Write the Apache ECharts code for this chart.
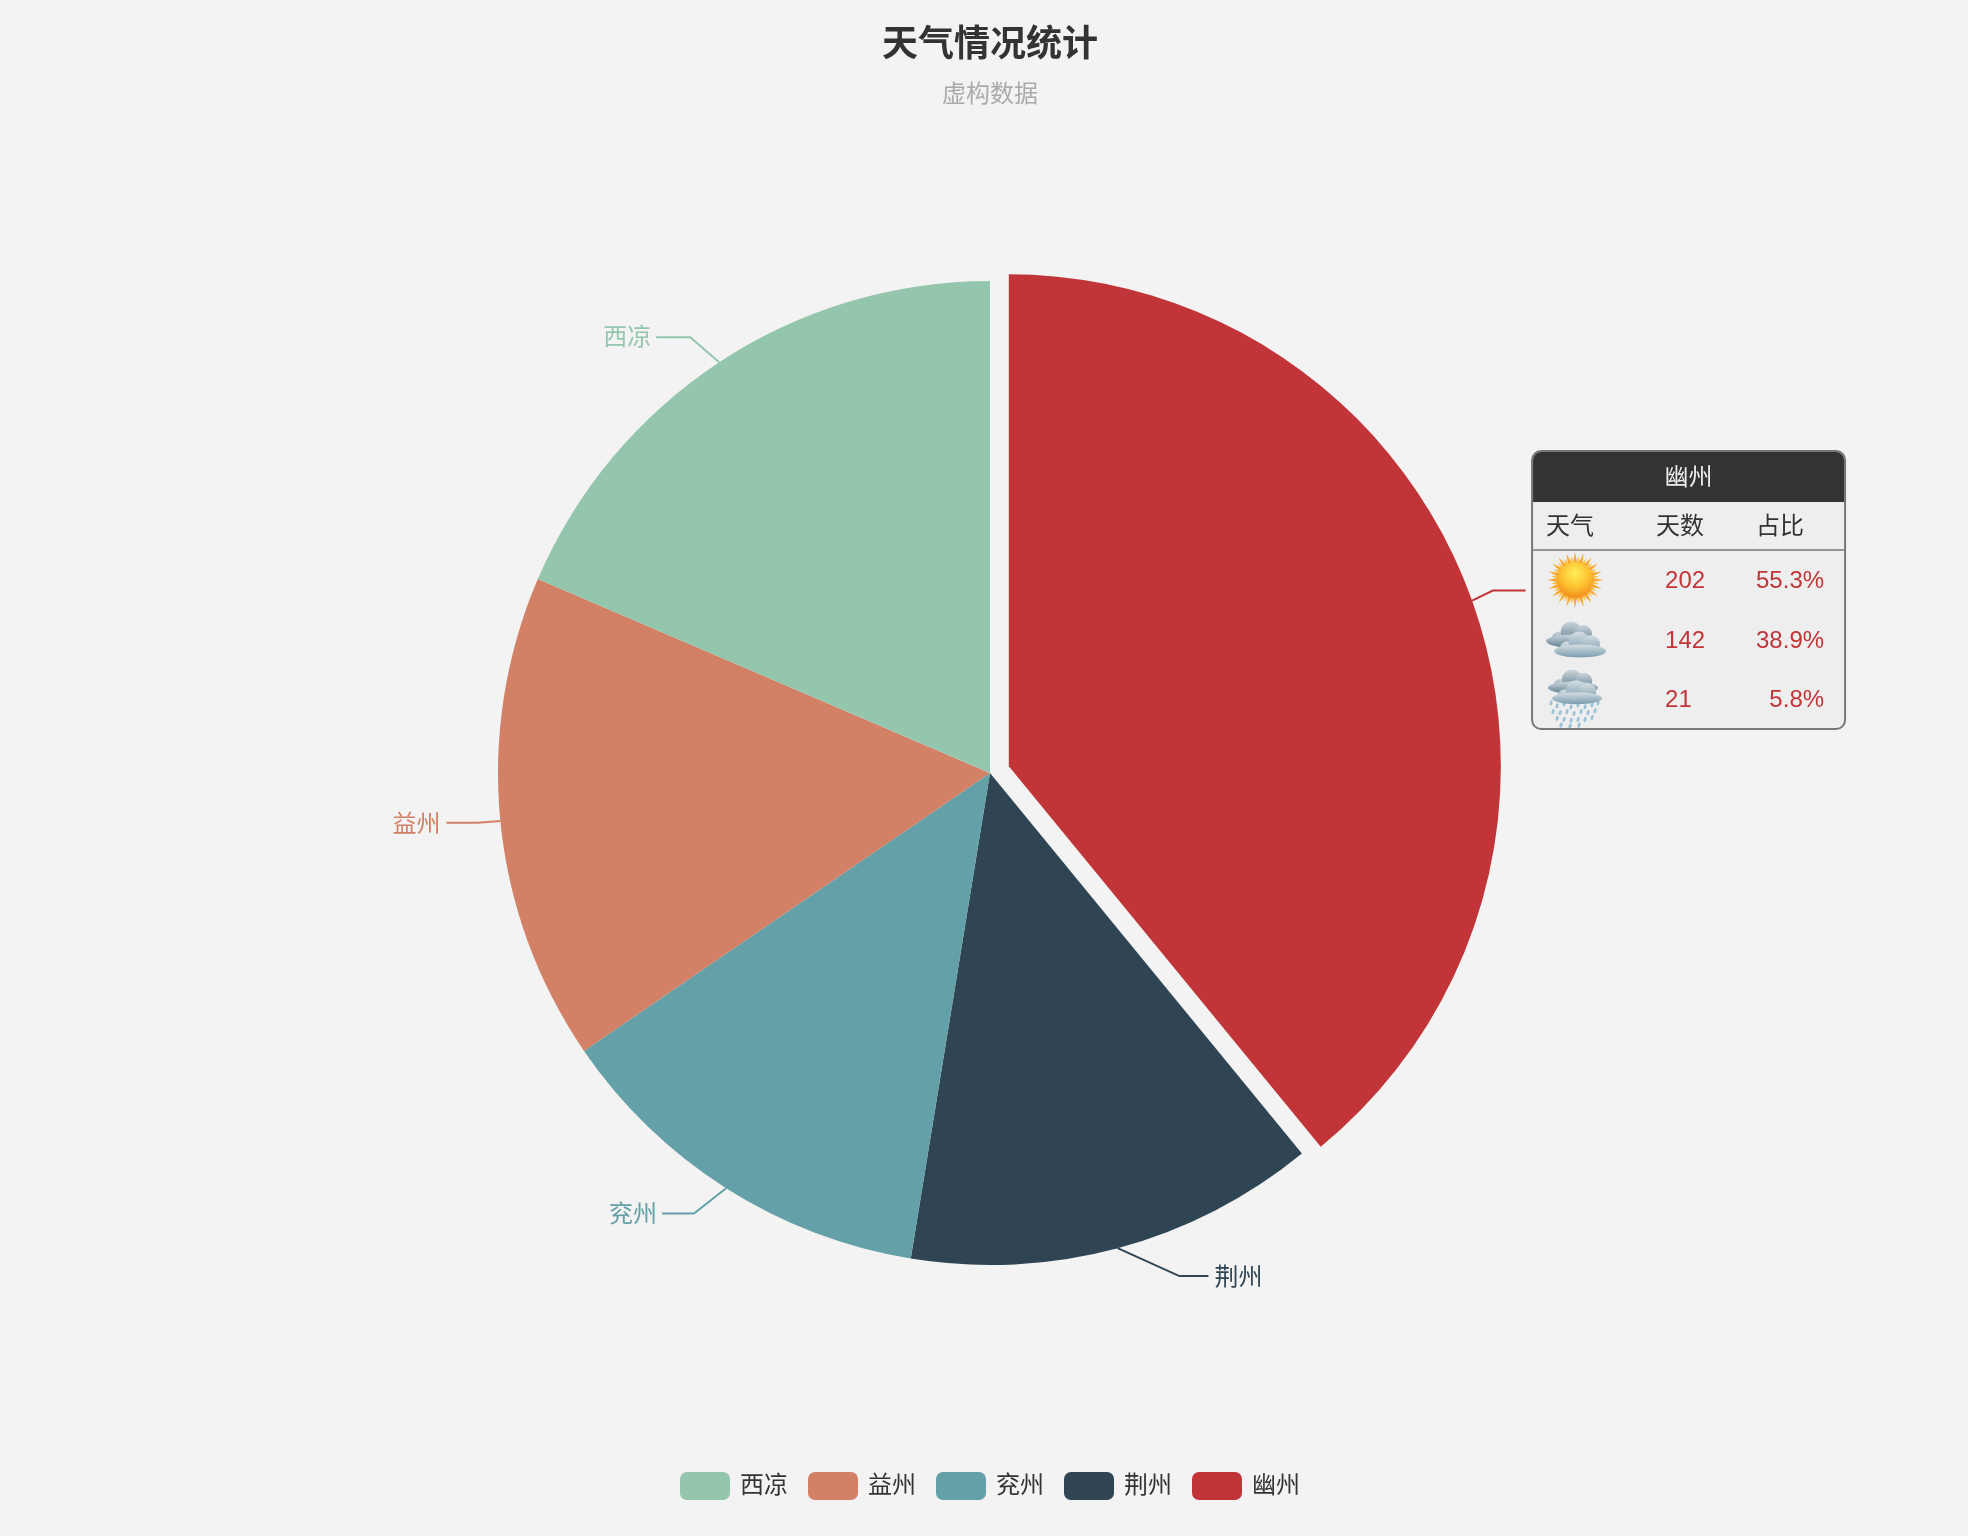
<!DOCTYPE html>
<html><head><meta charset="utf-8">
<style>html,body{margin:0;padding:0;background:#f3f3f3}#c{width:1968px;height:1536px}</style>
<script src="https://cdn.jsdelivr.net/npm/echarts@6/dist/echarts.min.js"></script>
</head><body><div id="c"></div>
<script>
const names = ['幽州','荆州','兖州','益州','西凉'];
const values = [1548,535,510,634,735];
const colors = ['#c13437','#2f4554','#64a0a8','#d28167','#94c6ae'];
const legendOrder = ['西凉','益州','兖州','荆州','幽州'];
const weatherDays = [202,142,21];
const weatherRates = ['55.3%','38.9%','5.8%'];
const FONT = '"Liberation Sans","Noto Sans CJK SC",sans-serif';
// label and leader-line nudges, same order as names: elbow dx, end dx, label dx, line dy, label dy
const labelNudge = [[-7.5,-8.8,-6.3,0,-0.5],[54,49,50,-1,1.5],[-16,-14,-14,0,1.5],[7.5,10,9,-1,1.5],[-12.5,-12.5,-12.5,0,1]];

function svgUri(s){return 'data:image/svg+xml;charset=utf-8,'+encodeURIComponent('<svg xmlns="http://www.w3.org/2000/svg" width="120" height="120" viewBox="0 0 60 60">'+s+'</svg>');}
function sunSvg(){
  let rays='';
  for(let i=0;i<40;i++){
    const a=i*9, l=i%2?24:28;
    rays+=`<polygon points="-2.2,-16 2.2,-16 0,-${l}" fill="${i%2?'#fbc04a':'#f6a92e'}" transform="translate(29 30) rotate(${a})"/>`;
  }
  return `<defs><radialGradient id="s" cx="50%" cy="32%" r="72%"><stop offset="0" stop-color="#ffee5a"/><stop offset=".55" stop-color="#fcc02e"/><stop offset="1" stop-color="#ee851c"/></radialGradient></defs>${rays}<circle cx="29" cy="30" r="18" fill="url(#s)"/>`;
}
function cloudGroup(dx,dy,sc,id){
  return `<g transform="translate(${dx} ${dy}) scale(${sc})" fill="url(#${id})"><circle cx="13" cy="18" r="7.5"/><circle cx="25" cy="11" r="10.5"/><circle cx="37" cy="13" r="9"/><ellipse cx="26" cy="20" rx="26" ry="6.5"/></g>`;
}
const cloudDefs=`<defs><linearGradient id="a" x1="0" y1="0" x2="0" y2="1"><stop offset="0" stop-color="#ccd5db"/><stop offset="1" stop-color="#5f7f91"/></linearGradient><linearGradient id="b" x1="0" y1="0" x2="0" y2="1"><stop offset="0" stop-color="#d5dee3"/><stop offset="1" stop-color="#7a9cae"/></linearGradient></defs>`;
function cloudySvg(){return cloudDefs+cloudGroup(0,11,1,'a')+cloudGroup(8,21,1,'b');}
function showersSvg(){
  let drops='';
  const pts=[[5,34],[11,37],[18,35],[25,38],[32,36],[39,38],[46,36],[52,34],[7,43],[14,44],[21,43],[28,45],[35,43],[42,44],[49,42],[11,50],[18,51],[25,52],[32,51],[39,51],[46,49],[15,57],[24,58],[33,57]];
  pts.forEach(p=>{drops+=`<ellipse cx="${p[0]}" cy="${p[1]}" rx="1.5" ry="2.7" fill="#9cc3d8" transform="rotate(15 ${p[0]} ${p[1]})"/>`;});
  return cloudDefs+drops+cloudGroup(2,-1,.96,'a')+cloudGroup(6,10,.96,'b');
}
const icons={Sunny:svgUri(sunSvg()),Cloudy:svgUri(cloudySvg()),Showers:svgUri(showersSvg())};
const iconKeys=['Sunny','Cloudy','Showers'];
const iconHeights=[60,60,58];

const rich={
  title:{color:'#eee',align:'center',fontSize:24,fontFamily:FONT,padding:[2,0,0,0]},
  abg:{backgroundColor:'#333',width:'100%',align:'right',height:50,borderRadius:[8,8,0,0]},
  sp:{width:13,height:46,align:'left'},
  weatherHead:{color:'#333',width:48,height:46,align:'left',fontSize:24,fontFamily:FONT,padding:[2,0,0,0]},
  valueHead:{color:'#333',width:48,align:'left',padding:[2,0,0,62],fontSize:24,fontFamily:FONT},
  rateHead:{color:'#333',width:48,align:'left',padding:[2,0,0,52],fontSize:24,fontFamily:FONT},
  hr:{borderColor:'#777',width:'100%',borderWidth:1,height:0,lineHeight:0},
  value:{color:colors[0],width:40,align:'left',padding:[2,39,0,59],fontSize:24,fontFamily:FONT},
  rate:{color:colors[0],width:80,align:'right',padding:[2,20,0,0],fontSize:24,fontFamily:FONT}
};
iconKeys.forEach((k,i)=>{rich[k]={width:60,height:iconHeights[i],align:'left',backgroundColor:{image:icons[k]}};});

const richFormatter=[
  '{title|{b}}{abg|}',
  '{sp|}{weatherHead|天气}{valueHead|天数}{rateHead|占比}',
  '{hr|}',
  ...iconKeys.map((k,i)=>`{sp|}{${k}|}{value|${weatherDays[i]}}{rate|${weatherRates[i]}}`)
].join('\n');

const chart=echarts.init(document.getElementById('c'),null,{renderer:'canvas',width:1968,height:1536});
chart.setOption({
  backgroundColor:'#f3f3f3',
  animation:false,
  title:{text:'天气情况统计',subtext:'虚构数据',left:985,textAlign:'center',top:23,itemGap:19,
    textStyle:{fontSize:36,fontWeight:'bold',color:'#333',fontFamily:FONT},
    subtextStyle:{fontSize:24,color:'#aaa',fontFamily:FONT}},
  legend:{data:legendOrder,left:675,top:1467,itemWidth:50,itemHeight:28,itemGap:20,
    textStyle:{fontSize:24,color:'#333',fontFamily:FONT,padding:[0,0,0,5]}},
  series:[{
    type:'pie',
    center:[990,773],
    radius:492,
    selectedMode:'single',
    selectedOffset:20,
    startAngle:90,
    clockwise:true,
    avoidLabelOverlap:false,
    labelLine:{length:30,length2:34,lineStyle:{width:2}},
    label:{fontSize:24,fontFamily:FONT},
    labelLayout:function(p){
      const n=labelNudge[p.dataIndex], q=p.labelLinePoints;
      return {dx:n[2],dy:n[4],labelLinePoints:[[q[0][0],q[0][1]],[q[1][0]+n[0],q[1][1]+n[3]],[q[2][0]+n[1],q[2][1]+n[3]]]};
    },
    data:names.map((n,i)=>{
      const d={name:n,value:values[i],itemStyle:{color:colors[i],borderWidth:0},
        label:{color:colors[i]},labelLine:{lineStyle:{color:colors[i]}}};
      if(i===0){
        d.selected=true;
        d.label={formatter:richFormatter,backgroundColor:'#eee',borderColor:'#777',borderWidth:2,borderRadius:8,rich};
      }
      return d;
    })
  }]
});
</script></body></html>
